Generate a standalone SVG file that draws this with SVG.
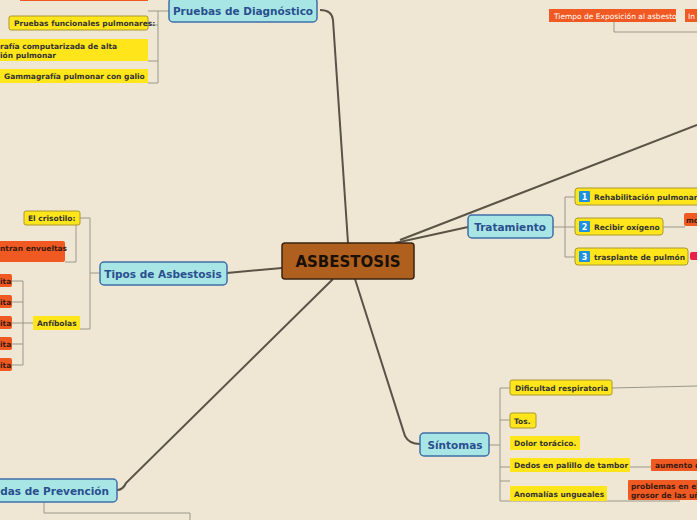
<svg xmlns="http://www.w3.org/2000/svg" width="697" height="520" viewBox="0 0 697 520">
<style>
text{font-family:"DejaVu Sans",Verdana,sans-serif;font-weight:bold}
.main{fill:#a8e6e6;stroke:#3f6fa8;stroke-width:1.5}
.mt{font-size:10.5px;fill:#2a4f8f}
.y{fill:#ffe51a}
.yb{fill:#ffe51a;stroke:#a89a30;stroke-width:1}
.yt{font-size:7.5px;fill:#333}
.o{fill:#f05a22}
.ot{font-size:7.5px;fill:#fff;font-weight:normal}
.od{font-size:7.5px;fill:#3a1a10}
.l{fill:none;stroke:#9a978a;stroke-width:1}
.c{fill:none;stroke:#5a5346;stroke-width:2}
.n{fill:#1e90e0}
.nt{font-size:8px;fill:#fff}
</style>
<rect width="697" height="520" fill="#efe7d3"/>
<g id="connectors">
<path class="c" d="M348 243 L333 20 Q332 10 320 10"/>
<path class="c" d="M282 268 L227 273"/>
<path class="c" d="M395 243 L468 227"/>
<path class="c" d="M400 240 L697 125" stroke-width="2.5"/>
<path class="c" d="M355 279 L405 436 Q409 444 420 444" stroke-width="1.5"/>
<path class="c" d="M333 279 L126 483 Q123 490 117 490" stroke-width="1.5"/>
<path class="l" d="M169 11 H158 V83 H148 M158 25 H148 M158 61 H148 M158 11 H148"/>
<path class="l" d="M100 273 H90 V218 H80 M90 329 H80 M90 273 V329 M76 218 V262 H65"/>
<path class="l" d="M33 323 H23 V281 H12 M23 302 H12 M23 344 H12 M23 365 H12 M23 323 V365 M12 323 H23"/>
<path class="l" d="M553 227 H565 V197 H575 M565 227 H575 M565 227 V257 H575 M663 227 H685"/>
<path class="l" d="M489 445 H500 V388 H510 M500 420 H510 M500 445 V501 H680 M500 467 H680 M500 481 H510"/>
<path class="l" d="M614 15 V32 H697"/>
<path class="l" d="M44 502 V513 H190 V520"/>
<path class="l" d="M612 388 L697 386"/>
</g>
<g id="pruebas"><rect class="main" x="169" y="-2" width="148" height="24" rx="4"/><text class="mt" x="243" y="15" text-anchor="middle">Pruebas de Diagnóstico</text></g>
<g id="p-orange"><rect class="o" x="20" y="-5" width="128" height="6"/></g>
<g id="p1"><rect class="yb" x="9" y="16" width="139" height="14" rx="2"/><text class="yt" x="14" y="26">Pruebas funcionales pulmonares:</text></g>
<g id="p2"><rect class="y" x="-2" y="39" width="150" height="22"/><text class="yt" x="0" y="49">rafía computarizada de alta</text><text class="yt" x="0" y="58">ión pulmonar</text></g>
<g id="p3"><rect class="y" x="0" y="69" width="148" height="14"/><text class="yt" x="4" y="79">Gammagrafía pulmonar con galio</text></g>
<g id="tipos"><rect class="main" x="100" y="262" width="127" height="23" rx="4"/><text class="mt" x="163" y="278" text-anchor="middle">Tipos de Asbestosis</text></g>
<g id="crisotilo"><rect class="yb" x="24" y="211" width="56" height="14" rx="2"/><text class="yt" x="28" y="221">El crisotilo:</text></g>
<g id="envueltas"><rect class="o" x="-5" y="241" width="70" height="21" rx="2"/><text class="od" x="0" y="251">ntran envueltas</text></g>
<g id="anfibolas"><rect class="y" x="33" y="316" width="47" height="14"/><text class="yt" x="37" y="326">Anfíbolas</text></g>
<g id="a1"><rect class="o" x="-5" y="274" width="17" height="13" rx="2"/><text class="od" x="0" y="284">ita</text></g>
<g id="a2"><rect class="o" x="-5" y="295" width="17" height="13" rx="2"/><text class="od" x="0" y="305">ita</text></g>
<g id="a3"><rect class="o" x="-5" y="316" width="17" height="13" rx="2"/><text class="od" x="0" y="326">ita</text></g>
<g id="a4"><rect class="o" x="-5" y="337" width="17" height="13" rx="2"/><text class="od" x="0" y="347">ita</text></g>
<g id="a5"><rect class="o" x="-5" y="358" width="17" height="13" rx="2"/><text class="od" x="0" y="368">ita</text></g>
<g id="center"><rect x="282" y="243" width="132" height="36" rx="3" fill="#b0601e" stroke="#3a2410" stroke-width="1.5"/><text x="348" y="267" text-anchor="middle" font-size="15" fill="#1a1008">ASBESTOSIS</text></g>
<g id="tratamiento"><rect class="main" x="468" y="215" width="85" height="23" rx="4"/><text class="mt" x="510" y="231" text-anchor="middle">Tratamiento</text></g>
<g id="t1"><rect class="yb" x="575" y="188" width="125" height="17" rx="3"/><rect class="n" x="579" y="191" width="11" height="11" rx="1"/><text class="nt" x="584.5" y="200" text-anchor="middle">1</text><text class="yt" x="594" y="200">Rehabilitación pulmonar</text></g>
<g id="t2"><rect class="yb" x="575" y="218" width="88" height="17" rx="3"/><rect class="n" x="579" y="221" width="11" height="11" rx="1"/><text class="nt" x="584.5" y="230" text-anchor="middle">2</text><text class="yt" x="594" y="230">Recibir oxígeno</text></g>
<g id="t2o"><rect class="o" x="684" y="213" width="20" height="13" rx="2"/><text class="od" x="686" y="223">mo</text></g>
<g id="t3"><rect class="yb" x="575" y="248" width="113" height="17" rx="3"/><rect class="n" x="579" y="251" width="11" height="11" rx="1"/><text class="nt" x="584.5" y="260" text-anchor="middle">3</text><text class="yt" x="594" y="260">trasplante de pulmón</text><rect x="690" y="252" width="10" height="8" rx="2" fill="#e8204a"/></g>
<g id="tiempo"><rect class="o" x="549" y="9" width="127" height="13"/><text class="ot" x="554" y="18.5">Tiempo de Exposición al asbesto</text></g>
<g id="in"><rect class="o" x="685" y="9" width="15" height="13"/><text class="ot" x="688" y="18.5">In</text></g>
<g id="sintomas"><rect class="main" x="420" y="433" width="69" height="23" rx="4"/><text class="mt" x="455" y="449" text-anchor="middle">Síntomas</text></g>
<g id="s1"><rect class="yb" x="510" y="380" width="102" height="15" rx="2"/><text class="yt" x="515" y="391">Dificultad respiratoria</text></g>
<g id="s2"><rect class="yb" x="510" y="413" width="26" height="15" rx="2"/><text class="yt" x="514" y="424">Tos.</text></g>
<g id="s3"><rect class="y" x="510" y="436" width="70" height="14"/><text class="yt" x="514" y="446">Dolor torácico.</text></g>
<g id="s4"><rect class="y" x="510" y="458" width="120" height="14"/><text class="yt" x="514" y="468">Dedos en palillo de tambor</text></g>
<g id="s4o"><rect class="o" x="651" y="459" width="50" height="12" rx="1"/><text class="od" x="655" y="468">aumento de</text></g>
<g id="s5"><rect class="y" x="510" y="486" width="97" height="15"/><text class="yt" x="514" y="497">Anomalías ungueales</text></g>
<g id="s5o"><rect class="o" x="628" y="480" width="72" height="20" rx="1"/><text class="od" x="631" y="489">problemas en el c</text><text class="od" x="631" y="498">grosor de las uñas</text></g>
<g id="prevencion"><rect class="main" x="-20" y="479" width="137" height="23" rx="4"/><text class="mt" x="109" y="495" text-anchor="end">edidas de Prevención</text></g>
</svg>
